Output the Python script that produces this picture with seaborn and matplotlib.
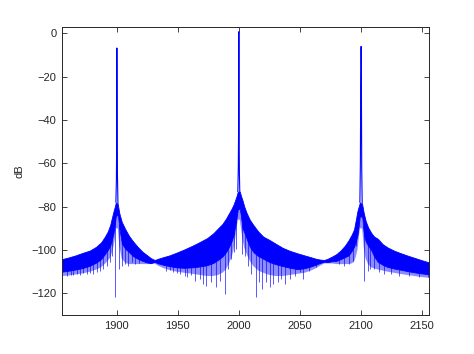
import numpy as np
import pandas as pd
import matplotlib
matplotlib.use("Agg")
import matplotlib.pyplot as plt
import seaborn as sns

# ---- data ----
env_x = [1855, 1860, 1866, 1872, 1878, 1883, 1887, 1890, 1892.5, 1894.5, 1896, 1897.3, 1898.3, 1899.2,
         1900.8, 1902, 1904, 1907, 1910, 1913, 1917, 1921, 1925, 1928, 1931, 1934, 1938, 1943, 1949, 1955,
         1962, 1968, 1974, 1979, 1983, 1986.5, 1989.5, 1992, 1994, 1995.7, 1997, 1998.2, 1999.2,
         2000.8, 2001.8, 2003, 2004.5, 2006.5, 2009, 2012, 2016, 2020, 2025, 2030, 2036, 2042, 2048, 2054,
         2059, 2063, 2066.5, 2070, 2073, 2076.5, 2080, 2083.5, 2087, 2090, 2092.5, 2094.5, 2096, 2097.3,
         2098.3, 2099.3,
         2101.2, 2102.5, 2104, 2106, 2108.5, 2111, 2114, 2118, 2122, 2127, 2132, 2138, 2144, 2150, 2156]
env_hi = [-104.2, -103.5, -102.5, -101.3, -100.2, -98.5, -96.5, -94, -91.5, -88.5, -85, -82, -80, -78,
          -79, -83, -87, -90.5, -93.5, -95.8, -98.5, -100.8, -102.5, -103.8, -104.6, -104, -103.3, -102.5,
          -101.2, -99.8, -98, -96.3, -94.5, -92.3, -90, -88, -85.5, -83, -81, -79, -77, -75, -73,
          -73, -75, -77, -80, -83, -86, -88.5, -91.5, -93.8, -95.3, -97, -99, -100.4, -101.5, -102.5,
          -103.3, -104, -104.4, -104.6, -104, -103, -101.9, -100.2, -98, -95.5, -93, -90.5, -86, -82,
          -80, -78,
          -79, -83, -86.5, -89.5, -92, -93.8, -94.8, -97.3, -98.8, -100.2, -101.3, -102.5, -103.6, -104.7,
          -105.7]
env_lo = [-110, -109.6, -109, -108.3, -107.2, -105.8, -104.2, -102, -100, -98, -95, -92, -88, -84,
          -84, -90, -97, -99.5, -101, -102.7, -104, -105, -105.8, -106, -105.5, -106.2, -106.8, -107.4,
          -108, -108.2, -108, -107.6, -107, -106, -104.5, -103, -101, -98.5, -96, -93, -89, -85, -81,
          -81, -85, -90, -92, -95, -98.5, -101, -102.8, -104, -105.5, -106.5, -107.4, -108.2, -108.8,
          -108.4, -107.6, -106.8, -106, -105.4, -105.5, -105.2, -105, -104.2, -103.3, -102.5, -100.5,
          -98.5, -96, -93, -89, -84,
          -85, -93, -96, -98, -100, -103, -105.5, -106.8, -107.8, -108.5, -109, -109.7, -110.3, -110.8,
          -111.2]
fringe_lo = [-112, -111.8, -111.3, -110.8, -110, -109, -108, -106.5, -105, -103.5, -101, -98, -95, -90,
             -90, -98, -104, -106, -106.5, -106.5, -106.5, -106.5, -106.5, -106.5, -106.2, -107.3, -108.3,
             -109.2, -110, -110.5, -111, -111.5, -112, -112, -111.5, -110.5, -109, -106, -103.5, -100, -95,
             -90, -86,
             -86, -90, -95, -99, -102, -105, -107.5, -109.5, -110.5, -111.5, -112, -112, -111.5, -111,
             -110.5, -109.5, -108.5, -107.3, -106.2, -106.2, -106.2, -106.5, -106.5, -106.5, -106.5,
             -106.2, -105.5, -103, -100, -95, -90,
             -90, -99, -104, -106.5, -108, -108.5, -109, -109.5, -110, -110.5, -111, -111.5, -112, -112.5,
             -112.8]

spike_x = [1858.8, 1862, 1864.2, 1867, 1869.7, 1872.5, 1875.2, 1878, 1880.6, 1883.4, 1886.1, 1888.8,
           1891.6, 1894.3, 1896.2, 1898.4, 1901.9, 1903.8, 1906.5, 1909.2, 1912, 1915, 1918, 1940.7,
           1943.5, 1946.1, 1949, 1951.6, 1955.6, 1957.8, 1960.8, 1963.8, 1967.9, 1970.6, 1973.4, 1977.5,
           1981.6, 1984.3, 1988.4, 1991.1, 1993.9, 1996, 1997.9, 2002.5, 2004.7, 2007.5, 2010.2, 2013.7,
           2016.2, 2019.2, 2022.5, 2025.2, 2027.9, 2032, 2034.8, 2037.5, 2041.6, 2045.7, 2049.8, 2052.5,
           2057.9, 2063.4, 2082.5, 2086.6, 2090.7, 2093.4, 2096.1, 2102.4, 2105.7, 2107.9, 2111.1,
           2115.2, 2119.3, 2124.8, 2131.6, 2139.8, 2148, 2154.8]
spike_lo = [-112, -111.5, -111.5, -111, -111.5, -110.8, -111.2, -110.5, -111.1, -110.3, -109.6, -108.8,
            -107.3, -105.7, -102.7, -121.8, -108.8, -107.3, -106.5, -107.3, -105.7, -106.5, -106.2,
            -109.6, -109.2, -110.3, -110.5, -111.1, -112, -112.6, -111.5, -114.2, -113.4, -115.7, -116.5,
            -114.9, -117.2, -114.2, -120.3, -108.8, -104.2, -101.1, -99.6, -101.9, -102.7, -107.3,
            -111.1, -121.5, -114.9, -118, -114.9, -117.2, -115.7, -114.9, -113.4, -115.7, -113.4,
            -111.9, -110.3, -113.4, -109.6, -108, -106.5, -107.3, -106.5, -105, -98, -114.2, -109.6,
            -108.8, -108.8, -110.3, -111.1, -111.1, -112, -112, -112.6, -112.6]

peak_names = ["1900"] * 7 + ["2000"] * 7 + ["2100"] * 7
peak_x = [1899.2, 1899.6, 1899.85, 1900.0, 1900.2, 1900.5, 1900.9,
          1999.2, 1999.6, 1999.85, 2000.05, 2000.25, 2000.5, 2000.8,
          2099.3, 2099.7, 2100.0, 2100.3, 2100.5, 2100.8, 2101.2]
peak_db = [-78, -68, -50, -6.7, -50, -66, -79,
           -73, -62, -42, 0.8, -42, -65, -73,
           -78, -60, -25, -6, -16, -62, -79]

x_ticks = [1900, 1950, 2000, 2050, 2100, 2150]
y_ticks = [-120, -100, -80, -60, -40, -20, 0]

# ---- drawing ----
sns.set_style("ticks")
plt.rcParams['font.family'] = ['Liberation Sans', 'DejaVu Sans']
BLUE = (0, 0, 1)
TXT = "#262626"

fig = plt.figure(figsize=(4.74, 3.54), dpi=100)
ax = fig.add_axes([0.1308, 0.1102, 0.7743, 0.8136])

ax.fill_between(env_x, fringe_lo, env_lo, facecolor=BLUE, edgecolor="none", alpha=0.45)
ax.fill_between(env_x, env_lo, env_hi, facecolor=BLUE, edgecolor=BLUE, linewidth=0.6)
spike_top = np.interp(spike_x, env_x, env_lo) + 1.5
ax.vlines(spike_x, spike_lo, spike_top, color=BLUE, linewidth=0.7, alpha=0.65)

peaks = pd.DataFrame({"peak": peak_names, "x": peak_x, "db": peak_db})
sns.lineplot(data=peaks, x="x", y="db", units="peak", estimator=None, sort=False,
             color=BLUE, linewidth=0.8, ax=ax, legend=False)

ax.set_xlim(1855, 2156)
ax.set_ylim(-130, 3)
ax.set_xticks(x_ticks)
ax.set_yticks(y_ticks)
ax.set_xlabel("")
ax.set_ylabel("dB", fontsize=8, color=TXT, labelpad=5)
ax.tick_params(direction="in", top=True, right=True, length=3.5, width=0.6,
               labelsize=8, colors=TXT, pad=4)
for s in ax.spines.values():
    s.set_visible(True)
    s.set_linewidth(0.7)
    s.set_color(TXT)

fig.savefig("out.png", dpi=100, facecolor="white")
